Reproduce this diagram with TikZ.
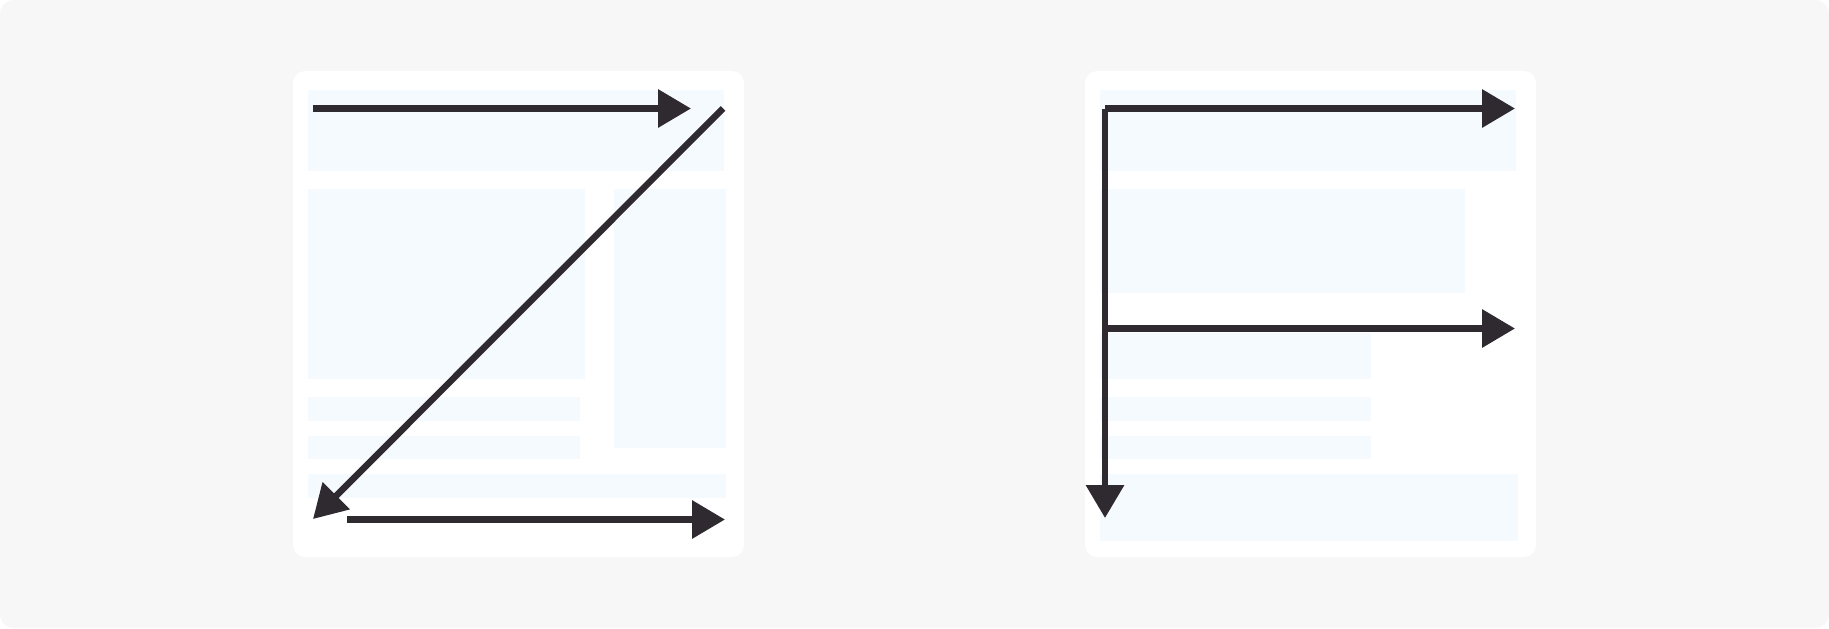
\documentclass[tikz,border=0pt]{standalone}
\usetikzlibrary{arrows.meta}
\definecolor{bggray}{HTML}{F7F7F7}
\definecolor{blockblue}{HTML}{F5FAFE}
\definecolor{ink}{HTML}{2F2A30}
\begin{document}
\begin{tikzpicture}[x=0.5pt,y=-0.5pt,
  panel/.style={fill=white,rounded corners=6pt},
  block/.style={fill=blockblue},
  flow/.style={draw=ink,line width=3.25pt,-{Triangle[length=16.5pt,width=18.5pt]}},
  plainline/.style={draw=ink,line width=3.25pt}]
\useasboundingbox (0,0) rectangle (1829,628);
\fill[white] (0,0) rectangle (1829,628);
\fill[bggray,rounded corners=7pt] (0,0) rectangle (1829,628);

% left panel
\fill[panel] (293,71) rectangle (744,557);
\fill[block] (308,90) rectangle (724,171);
\fill[block] (308,189) rectangle (585,379);
\fill[block] (614,189) rectangle (726,448);
\fill[block] (308,397) rectangle (580,421);
\fill[block] (308,436) rectangle (580,459);
\fill[block] (308,474) rectangle (726,498);

\coordinate (la) at (313,108.5);
\coordinate (lb) at (691,108.5);
\coordinate (lc) at (723,108.5);
\coordinate (ld) at (313,519);
\coordinate (le) at (347,519.5);
\coordinate (lf) at (725,519.5);
\draw[flow] (la) -- (lb);
\draw[flow] (lc) -- (ld);
\draw[flow] (le) -- (lf);

% right panel
\fill[panel] (1085,71) rectangle (1536,557);
\fill[block] (1100,90) rectangle (1516,171);
\fill[block] (1100,189) rectangle (1465,293);
\fill[block] (1100,333) rectangle (1371,379);
\fill[block] (1100,397) rectangle (1371,421);
\fill[block] (1100,436) rectangle (1371,459);
\fill[block] (1100,474) rectangle (1518,541);

\coordinate (ra) at (1105,108.5);
\coordinate (rb) at (1515,108.5);
\coordinate (rc) at (1105,328.5);
\coordinate (rd) at (1515,328.5);
\coordinate (re) at (1105,518);
\draw[flow] (ra) -- (rb);
\draw[flow] (rc) -- (rd);
\draw[flow] (ra) -- (re);
\end{tikzpicture}
\end{document}
